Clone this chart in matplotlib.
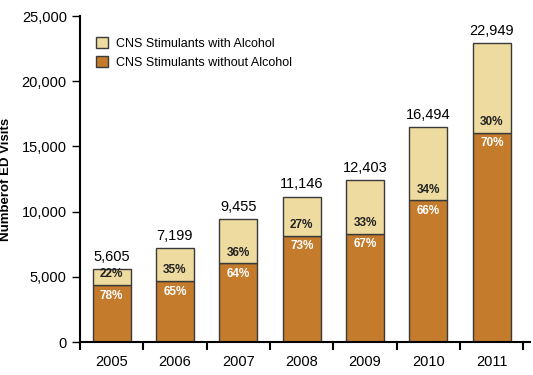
import matplotlib

matplotlib.use("Agg")

import matplotlib.pyplot as plt
from matplotlib.patches import Patch

YEARS = ["2005", "2006", "2007", "2008", "2009", "2010", "2011"]
WITHOUT_ALCOHOL = [4372, 4679, 6051, 8137, 8310, 10886, 16064]
WITH_ALCOHOL = [1233, 2520, 3404, 3009, 4093, 5608, 6885]
TOTAL_LABELS = ["5,605", "7,199", "9,455", "11,146", "12,403", "16,494", "22,949"]
PCT_WITHOUT = ["78%", "65%", "64%", "73%", "67%", "66%", "70%"]
PCT_WITH = ["22%", "35%", "36%", "27%", "33%", "34%", "30%"]

DARK = "#C47B2B"
LIGHT = "#EDDBA0"
EDGE = "#3a3a3a"

plt.rcParams["font.family"] = ["Liberation Sans", "DejaVu Sans"]

fig = plt.figure(figsize=(5.33, 3.75), dpi=100)
ax = fig.add_axes([0.150, 0.088, 0.844, 0.869])

x = list(range(len(YEARS)))
width = 0.6
ax.bar(x, WITHOUT_ALCOHOL, width, color=DARK, edgecolor=EDGE, linewidth=1.0)
ax.bar(x, WITH_ALCOHOL, width, bottom=WITHOUT_ALCOHOL, color=LIGHT,
       edgecolor=EDGE, linewidth=1.0)

for i in x:
    low = WITHOUT_ALCOHOL[i]
    total = low + WITH_ALCOHOL[i]
    ax.text(i, total + 400, TOTAL_LABELS[i], ha="center", va="bottom", fontsize=10.5)
    ax.text(i, low - 350, PCT_WITHOUT[i], ha="center", va="top", fontsize=8.5,
            fontweight="bold", color="white")
    ax.text(i, low + 350, PCT_WITH[i], ha="center", va="bottom", fontsize=8.5,
            fontweight="bold", color="#222222")

ax.set_xlim(-0.5, 6.6)
ax.set_ylim(0, 25000)
ax.set_yticks(range(0, 25001, 5000))
ax.set_yticklabels([f"{v:,}" for v in range(0, 25001, 5000)], fontsize=10.5)
ax.set_xticks(x)
ax.set_xticklabels(YEARS, fontsize=10.5)
ax.set_xticks([i - 0.5 for i in range(len(YEARS) + 1)], minor=True)
ax.tick_params(axis="x", which="major", length=0, pad=9)
ax.tick_params(axis="x", which="minor", length=6, width=1.5, direction="out")
ax.tick_params(axis="y", length=6, width=1.0, direction="out")
ax.set_ylabel("Numberof ED Visits", fontsize=9.5, fontweight="bold", labelpad=7)

for side in ("top", "right"):
    ax.spines[side].set_visible(False)
ax.spines["left"].set_linewidth(1.5)
ax.spines["bottom"].set_linewidth(1.5)

handles = [
    Patch(facecolor=LIGHT, edgecolor=EDGE, label="CNS Stimulants with Alcohol"),
    Patch(facecolor=DARK, edgecolor=EDGE, label="CNS Stimulants without Alcohol"),
]
ax.legend(handles=handles, loc="upper left", bbox_to_anchor=(0.01, 0.97),
          frameon=False, fontsize=9, handlelength=1.0, handleheight=1.0,
          handletextpad=0.6, labelspacing=0.45)

fig.savefig("out.png", dpi=100)
